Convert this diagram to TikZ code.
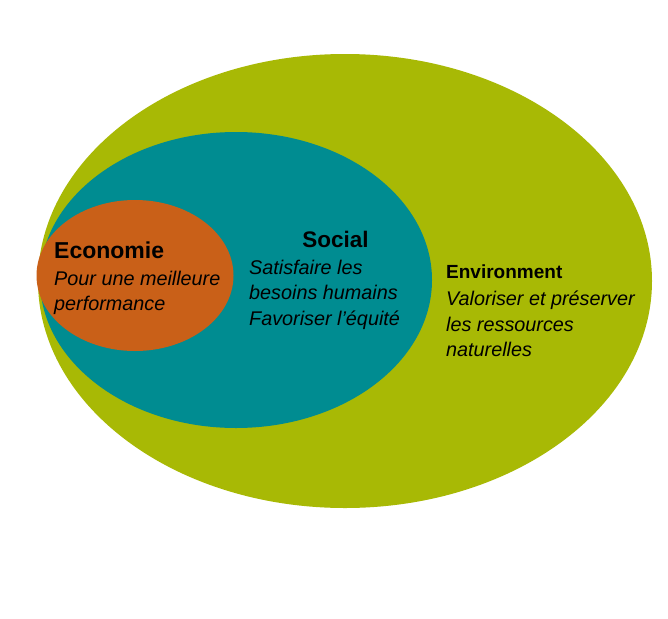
\documentclass[tikz,border=0pt]{standalone}
\usepackage{fontspec}
\setmainfont{Liberation Sans}
\definecolor{envgreen}{HTML}{A8B905}
\definecolor{socteal}{HTML}{008C91}
\definecolor{ecoorange}{HTML}{C96018}
\tikzset{
  title/.style={anchor=base west, inner sep=0pt, font=\fontsize{23}{25}\selectfont\bfseries},
  line/.style={anchor=base west, inner sep=0pt, font=\fontsize{19.8}{25}\selectfont\itshape},
}
\begin{document}
\begin{tikzpicture}[x=1pt,y=-1pt]
\useasboundingbox (0,0) rectangle (668,618);
\fill[envgreen] (345,281) ellipse [x radius=307, y radius=227];
\fill[socteal] (236,280) ellipse [x radius=196, y radius=148];
\fill[ecoorange] (135,275.5) ellipse [x radius=98.5, y radius=75.5];
% Economie
\node[title] (eco) at (54,258) {Economie};
\node[line] (eco1) at (54,285) {Pour une meilleure};
\node[line] (eco2) at (54,310) {performance};
% Social
\node[title, anchor=base, font=\fontsize{22.5}{25}\selectfont\bfseries] (soc) at (335.5,247) {Social};
\node[line] (soc1) at (249,274) {Satisfaire les};
\node[line] (soc2) at (249,299) {besoins humains};
\node[line] (soc3) at (249,325) {Favoriser l’équité};
% Environment
\node[title, font=\fontsize{19}{25}\selectfont\bfseries] (env) at (446,278) {Environment};
\node[line] (env1) at (446,305) {Valoriser et préserver};
\node[line] (env2) at (446,331) {les ressources};
\node[line] (env3) at (446,356) {naturelles};
\end{tikzpicture}
\end{document}
